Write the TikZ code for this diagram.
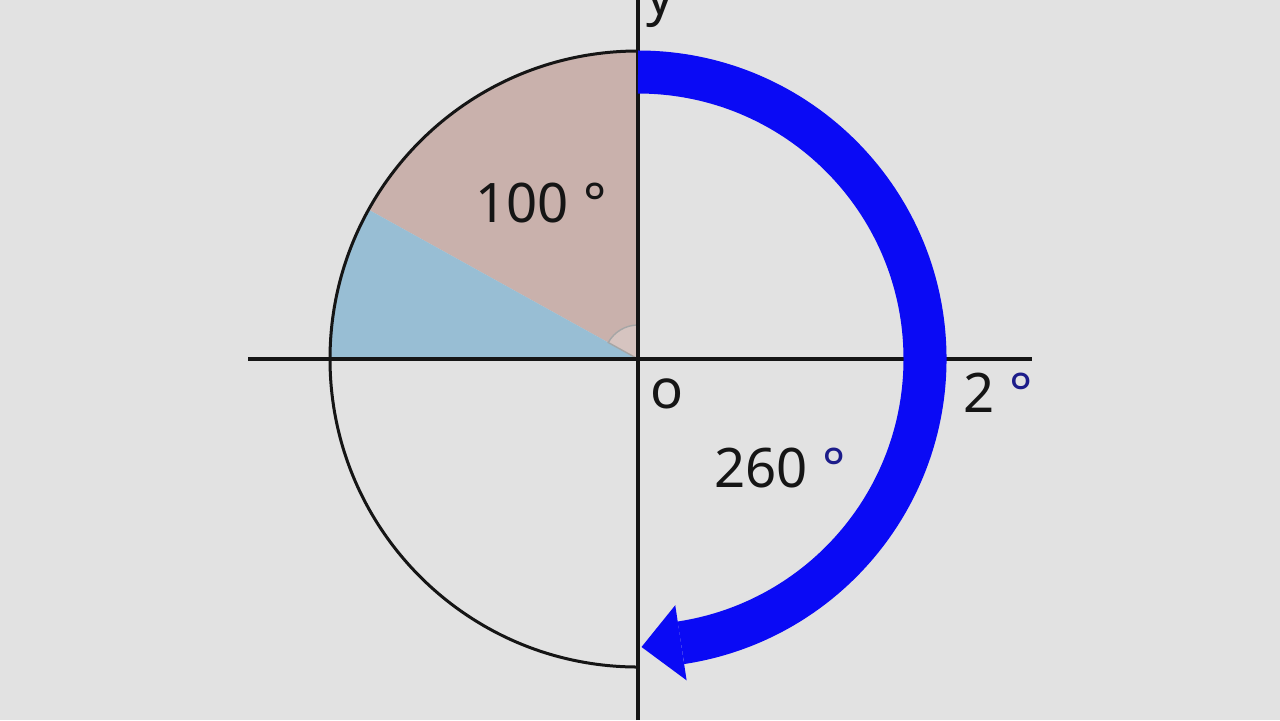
\documentclass[tikz,border=0pt]{standalone}
\usepackage{fontspec}
\setmainfont{Noto Sans}
\usetikzlibrary{calc}
\definecolor{bg}{HTML}{E2E2E2}
\definecolor{pinkfill}{HTML}{C9B1AC}
\definecolor{bluefill}{HTML}{98BED4}
\definecolor{arcblue}{HTML}{0A0AF5}
\definecolor{navy}{HTML}{1C1C8A}
\definecolor{ink}{HTML}{151515}
\tikzset{
  axisline/.style={draw=ink, line width=0.035cm},
  circline/.style={draw=ink, line width=0.03cm},
  lbl/.style={inner sep=0pt, anchor=base, text=ink, font=\fontsize{15.5}{18}\selectfont},
  anglemark/.style={draw=black!35, line width=0.4pt, fill=white, fill opacity=0.25},
}
\begin{document}
\begin{tikzpicture}[x=0.01cm,y=0.01cm]
\fill[bg] (0,0) rectangle (1280,720);
\useasboundingbox (0,0) rectangle (1280,720);
\coordinate (O) at (638,361);
% sectors
\fill[pinkfill] (O) -- ++(90:308) arc[start angle=90,end angle=151,radius=308] -- cycle;
\fill[bluefill] (O) -- ++(151:308) arc[start angle=151,end angle=180,radius=308] -- cycle;
\path[anglemark] (O) -- ++(151:34) arc[start angle=151,end angle=90,radius=34] -- cycle;
% axes
\coordinate (xl) at (248,361);
\coordinate (xr) at (1032,361);
\coordinate (yb) at (638,0);
\coordinate (yt) at (638,720);
\draw[axisline] (xl) -- (xr);
\draw[axisline] (yb) -- (yt);
% left half of the circle
\draw[circline] (O) ++(90:308) arc[start angle=90,end angle=270,radius=308];
% blue arrow
\draw[arcblue, line width=0.43cm] (O) ++(90:287) arc[start angle=90,end angle=-81.4,radius=287];
\fill[arcblue] ($(O)+(-81.4:325)$) -- ($(O)+(-81.4:249)$) -- ($(O)+(-89.3:288)$) -- cycle;
% labels
\node[lbl] (ylab) at (660,706) {y};
\node[lbl] (olab) at (667,312) {o};
\node[lbl] (a100) at (541,498) {100 °};
\node[lbl] (a260) at (780,233) {260 \textcolor{navy}{°}};
\node[lbl] (a2) at (998,308) {2 \textcolor{navy}{°}};
\end{tikzpicture}
\end{document}
